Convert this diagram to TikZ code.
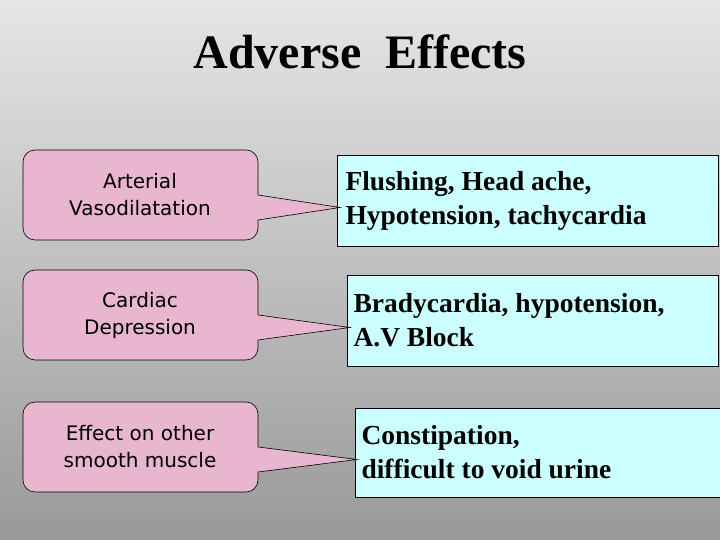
\documentclass[tikz,border=0pt]{standalone}
\usepackage{fontspec}
\setmainfont{Liberation Serif}
\newfontfamily\calfont{DejaVu Sans}
\definecolor{pinkc}{HTML}{E8B6CE}
\definecolor{cyanc}{HTML}{CCFFFF}
\tikzset{
 ptext/.style={font=\calfont\fontsize{20}{27}\selectfont, align=center},
 ctext/.style={font=\bfseries\fontsize{27.5}{34}\selectfont, align=left, anchor=west},
 cbox/.style={fill=cyanc, draw=black, line width=0.6pt},
 pbox/.style={fill=pinkc, draw=black, line width=0.6pt},
}
\newcommand{\callout}[5]{% top, bottom, attach1, attach2, tipx
 \draw[pbox] (35,#1) -- (246,#1) arc[start angle=90,end angle=0,radius=12] -- (258,#3) -- (#5,{(#3+#4)/2}) -- (258,#4) -- (258,#2+12) arc[start angle=0,end angle=-90,radius=12] -- (35,#2) arc[start angle=270,end angle=180,radius=12] -- (23,#1-12) arc[start angle=180,end angle=90,radius=12] -- cycle;}
\begin{document}
\begin{tikzpicture}[x=1pt,y=1pt]
\shade[top color=black!10, bottom color=black!40] (0,0) rectangle (720,540);
\useasboundingbox (0,0) rectangle (720,540);
\node[font=\bfseries\fontsize{48}{52}\selectfont] (title) at (360,488) {Adverse\ \ Effects};
% row 1
\draw[cbox] (337,294) rectangle (718,385);
\callout{390}{300}{345}{320}{340}
\node[ptext] (p1) at (140,345) {Arterial\\Vasodilatation};
\node[ctext] (c1) at (342,339) {Flushing, Head ache,\\Hypotension, tachycardia};
% row 2
\draw[cbox] (347,174) rectangle (718,265);
\callout{270}{180}{225}{200}{350}
\node[ptext] (p2) at (140,225) {Cardiac\\Depression};
\node[ctext] (c2) at (350,220) {Bradycardia, hypotension,\\A.V Block};
% row 3
\draw[cbox] (355,43) rectangle (723,132);
\callout{138}{48}{93}{68}{357}
\node[ptext] (p3) at (140,93) {Effect on other\\smooth muscle};
\node[ctext] (c3) at (358,88) {Constipation,\\difficult to void urine};
\end{tikzpicture}
\end{document}
